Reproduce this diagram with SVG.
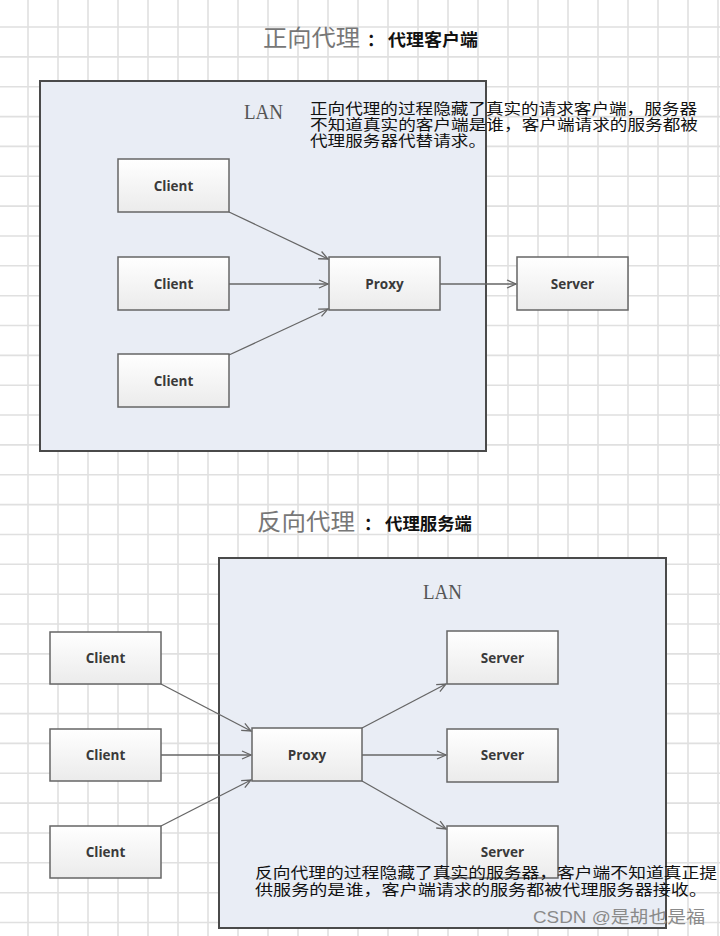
<svg xmlns="http://www.w3.org/2000/svg" width="720" height="936" viewBox="0 0 720 936">
<defs>
<style>
.grid{stroke:#e0e0e0;stroke-width:1.6;fill:none}
.lan{fill:#e9edf5;stroke:#4a4a4a;stroke-width:2}
.node{fill:url(#ng);stroke:#666;stroke-width:1.5}
.nt{font-family:"Open Sans","Liberation Sans",sans-serif;font-size:13.5px;font-weight:bold;fill:#3a3a3a;text-anchor:middle}
.lant{font-family:"Liberation Serif",serif;font-size:21px;fill:#555}
.big{font-family:"Noto Sans CJK SC",sans-serif;font-size:23px;fill:#777}
.sub{font-family:"Noto Sans CJK SC",sans-serif;font-size:17px;font-weight:bold;fill:#111}
.desc{font-family:"Noto Sans CJK SC",sans-serif;font-size:15px;fill:#111}
.wm{font-family:"Liberation Sans","Noto Sans CJK SC",sans-serif;font-size:17px;fill:#8a8a8a}
.conn{stroke:#666;stroke-width:1.3;fill:none;marker-end:url(#arr)}
</style>
<linearGradient id="ng" x1="0" y1="0" x2="0" y2="1">
<stop offset="0" stop-color="#ffffff"/>
<stop offset="1" stop-color="#ebebeb"/>
</linearGradient>
<marker id="arr" markerUnits="userSpaceOnUse" markerWidth="12" markerHeight="12" refX="10" refY="5" orient="auto">
<path d="M1,1 L10,5 L1,9" fill="none" stroke="#666" stroke-width="1.3"/>
</marker>
</defs>
<rect width="720" height="936" fill="#ffffff"/>
<g id="grid">
<path class="grid" d="M28,0V936M58,0V936M88,0V936M118,0V936M148,0V936M178,0V936M208,0V936M238,0V936M268,0V936M298,0V936M328,0V936M358,0V936M388,0V936M418,0V936M448,0V936M478,0V936M508,0V936M538,0V936M568,0V936M598,0V936M628,0V936M658,0V936M688,0V936M718,0V936"/>
<path class="grid" d="M0,27H720M0,56.9H720M0,86.7H720M0,116.6H720M0,146.4H720M0,176.3H720M0,206.1H720M0,236H720M0,265.8H720M0,295.7H720M0,325.5H720M0,355.4H720M0,385.2H720M0,415H720M0,444.9H720M0,474.8H720M0,504.6H720M0,534.5H720M0,564.3H720M0,594.2H720M0,624H720M0,653.9H720M0,683.7H720M0,713.6H720M0,743.4H720M0,773.3H720M0,803.1H720M0,833H720M0,862.8H720M0,892.7H720M0,922.5H720"/>
</g>
<g id="title-forward">
<text class="big" x="263" y="46" textLength="97" lengthAdjust="spacingAndGlyphs">正向代理</text>
<text class="sub" x="367" y="46">：</text>
<text class="sub" x="388" y="46" textLength="90" lengthAdjust="spacingAndGlyphs">代理客户端</text>
</g>
<g id="lan-forward">
<rect class="lan" x="40" y="81" width="446" height="370"/>
<text class="lant" x="244" y="119" textLength="39" lengthAdjust="spacingAndGlyphs">LAN</text>
</g>
<g id="f-client1"><rect class="node" x="118" y="159" width="111" height="53"/><text class="nt" x="173.5" y="191">Client</text></g>
<g id="f-client2"><rect class="node" x="118" y="257" width="111" height="53"/><text class="nt" x="173.5" y="289">Client</text></g>
<g id="f-client3"><rect class="node" x="118" y="354" width="111" height="53"/><text class="nt" x="173.5" y="386">Client</text></g>
<g id="f-proxy"><rect class="node" x="329" y="257" width="111" height="53"/><text class="nt" x="384.5" y="289">Proxy</text></g>
<g id="f-server"><rect class="node" x="517" y="257" width="111" height="53"/><text class="nt" x="572.5" y="289">Server</text></g>
<g id="desc-forward">
<text class="desc" x="310" y="114" textLength="387" lengthAdjust="spacingAndGlyphs">正向代理的过程隐藏了真实的请求客户端，服务器</text>
<text class="desc" x="310" y="130" textLength="388" lengthAdjust="spacingAndGlyphs">不知道真实的客户端是谁，客户端请求的服务都被</text>
<text class="desc" x="310" y="146" textLength="176" lengthAdjust="spacingAndGlyphs">代理服务器代替请求。</text>
</g>
<g id="title-reverse">
<text class="big" x="257" y="530" textLength="98" lengthAdjust="spacingAndGlyphs">反向代理</text>
<text class="sub" x="364" y="530">：</text>
<text class="sub" x="385" y="530" textLength="87" lengthAdjust="spacingAndGlyphs">代理服务端</text>
</g>
<g id="lan-reverse">
<rect class="lan" x="219" y="558" width="447" height="370"/>
<text class="lant" x="423" y="599" textLength="39" lengthAdjust="spacingAndGlyphs">LAN</text>
</g>
<g id="r-client1"><rect class="node" x="50" y="632" width="111" height="52"/><text class="nt" x="105.5" y="663">Client</text></g>
<g id="r-client2"><rect class="node" x="50" y="729" width="111" height="52"/><text class="nt" x="105.5" y="760">Client</text></g>
<g id="r-client3"><rect class="node" x="50" y="826" width="111" height="52"/><text class="nt" x="105.5" y="857">Client</text></g>
<g id="r-proxy"><rect class="node" x="252" y="728" width="110" height="53"/><text class="nt" x="307" y="760">Proxy</text></g>
<g id="r-server1"><rect class="node" x="447" y="631" width="111" height="53"/><text class="nt" x="502.5" y="663">Server</text></g>
<g id="r-server2"><rect class="node" x="447" y="729" width="111" height="53"/><text class="nt" x="502.5" y="760">Server</text></g>
<g id="r-server3"><rect class="node" x="447" y="826" width="111" height="52"/><text class="nt" x="502.5" y="857">Server</text></g>
<g id="connectors">
<path class="conn" d="M229,212 L328,259"/>
<path class="conn" d="M229,284 L328,284"/>
<path class="conn" d="M229,355 L328,309"/>
<path class="conn" d="M440,284 L516,284"/>
<path class="conn" d="M161,684 L251,731"/>
<path class="conn" d="M161,755 L251,755"/>
<path class="conn" d="M161,826 L251,780"/>
<path class="conn" d="M362,728 L446,684"/>
<path class="conn" d="M362,755 L446,755"/>
<path class="conn" d="M362,781 L446,829"/>
</g>
<g id="desc-reverse">
<text class="desc" x="255" y="878" textLength="462" lengthAdjust="spacingAndGlyphs">反向代理的过程隐藏了真实的服务器，客户端不知道真正提</text>
<text class="desc" x="255" y="895" textLength="452" lengthAdjust="spacingAndGlyphs">供服务的是谁，客户端请求的服务都被代理服务器接收。</text>
</g>
<g id="watermark">
<text class="wm" x="533" y="923" textLength="172" lengthAdjust="spacingAndGlyphs">CSDN @是胡也是福</text>
</g>
</svg>
